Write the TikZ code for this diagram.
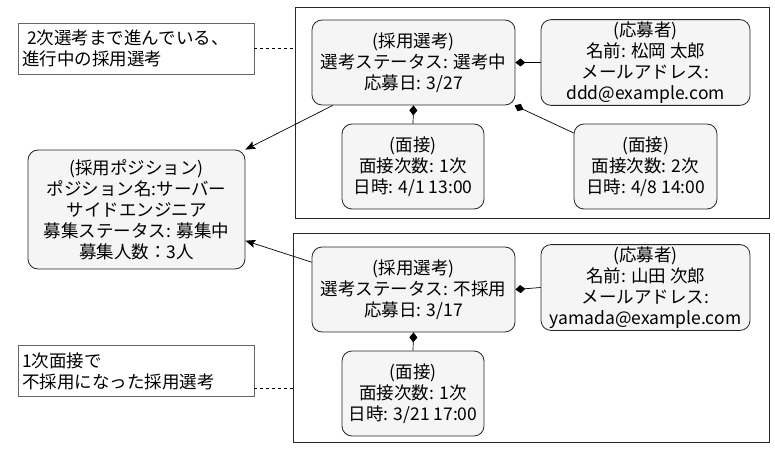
\documentclass[tikz,border=0pt]{standalone}
\usepackage{fontspec}
\setmainfont{Noto Sans CJK JP}
\usetikzlibrary{arrows.meta, positioning, calc}
\tikzset{
	entity/.style={draw=black!85, fill=black!4, rounded corners=10pt, align=center, inner sep=2pt, line width=0.8pt}, % rounded boxes
	group/.style={draw=black!85, line width=0.8pt}, % frame round one selection
	memo/.style={draw=black!60, line width=0.8pt, align=left, inner sep=4pt, text width=228pt, minimum height=51pt}, % comment box
	comp/.style={{Diamond[length=10pt,width=8pt]}-, line width=0.7pt}, % composition
	link/.style={-{Stealth[length=10pt,width=8pt,inset=2pt]}, line width=0.7pt},
	noteline/.style={dashed, line width=0.6pt},
}

\begin{document}
\begin{tikzpicture}[x=1pt, y=-1pt, every node/.append style={font=\fontsize{17.5}{21}\selectfont}]
	\useasboundingbox (0,0) rectangle (775,449);
	% frames
	\node[group, minimum width=474pt, minimum height=211pt] (grp1) at (532,112.5) {};
	\node[group, minimum width=476pt, minimum height=209pt] (grp2) at (531,337.5) {};
	% comments
	\node[memo] (note1) at (136,48.5) {\hspace{0.3em}2次選考まで進んでいる、\\進行中の採用選考};
	\node[memo] (note2) at (136,371) {1次面接で\\不採用になった採用選考};
	% position
	\node[entity, minimum width=217pt, minimum height=119pt] (pos) at (136.5,209.5)
		{(採用ポジション)\\ポジション名:サーバー\\サイドエンジニア\\募集ステータス: 募集中\\募集人数：3人};
	% first selection
	\node[entity, minimum width=203pt, minimum height=85pt] (sel1) at (413.5,62.5)
		{(採用選考)\\選考ステータス: 選考中\\応募日: 3/27};
	\node[entity, minimum width=209pt, minimum height=85pt] (app1) at (645.5,62.5)
		{(応募者)\\名前: 松岡 太郎\\メールアドレス:\\ddd@example.com};
	\node[entity, minimum width=142pt, minimum height=85pt] (int1a) at (413,166.5)
		{(面接)\\面接次数: 1次\\日時: 4/1 13:00};
	\node[entity, minimum width=143pt, minimum height=85pt] (int1b) at (645.5,166.5)
		{(面接)\\面接次数: 2次\\日時: 4/8 14:00};
	% second selection
	\node[entity, minimum width=203pt, minimum height=85pt] (sel2) at (413.5,289.5)
		{(採用選考)\\選考ステータス: 不採用\\応募日: 3/17};
	\node[entity, minimum width=209pt, minimum height=85pt] (app2) at (645.5,287.5)
		{(応募者)\\名前: 山田 次郎\\メールアドレス:\\yamada@example.com};
	\node[entity, minimum width=142pt, minimum height=85pt] (int2) at (413,393.5)
		{(面接)\\面接次数: 1次\\日時: 3/21 17:00};
	\coordinate (n2out) at ($(note2.east)+(0,17)$);
	% connectors
	\draw[noteline] (note1.east) -- (note1.east -| grp1.west);
	\draw[noteline] (n2out) -- (n2out -| grp2.west);
	\draw[link] (sel1.208) -- (pos.north east);
	\draw[link] (sel2.165) -- (pos.-16);
	\draw[comp] (sel1.east) -- (app1.west);
	\draw[comp] (sel1.south) -- (int1a.north);
	\draw[comp] (sel1.-23) -- (int1b.155);
	\draw[comp] (sel2.east) -- (app2.west);
	\draw[comp] (sel2.south) -- (int2.north);
\end{tikzpicture}
\end{document}
